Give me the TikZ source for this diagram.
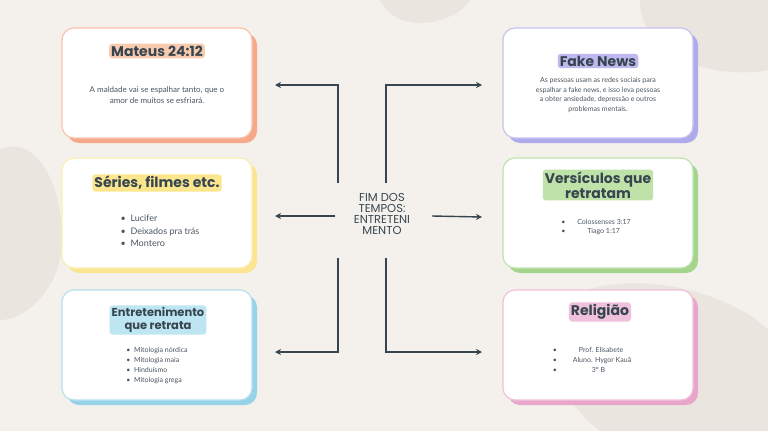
\documentclass[tikz,border=0pt]{standalone}
\usepackage{fontspec}
\setmainfont{Lato}
\newfontfamily\hfont{Poppins}
\usetikzlibrary{arrows.meta}
\definecolor{bg}{HTML}{F4F1EC}
\definecolor{blob}{HTML}{EAE5DF}
\definecolor{ink}{HTML}{36454F}
\definecolor{txt}{HTML}{4A5560}
\definecolor{cO}{HTML}{F6A98A}\definecolor{lO}{HTML}{F8CBAE}
\definecolor{cY}{HTML}{FBE592}\definecolor{lY}{HTML}{FBE68E}
\definecolor{cB}{HTML}{96D3E8}\definecolor{lB}{HTML}{BDE5F2}
\definecolor{cP}{HTML}{AEAAEB}\definecolor{lP}{HTML}{BDB8EE}
\definecolor{cG}{HTML}{A5D58D}\definecolor{lG}{HTML}{BFE2A8}
\definecolor{cK}{HTML}{E8A6CA}\definecolor{lK}{HTML}{EFC1DA}
\tikzset{x=1pt,y=-1pt,
 card/.style={fill=white,draw=#1,line width=1.2pt,rounded corners=12pt},
 shadow/.style={fill=#1,rounded corners=12pt},
 head/.style={fill=#1,rounded corners=3pt,font=\hfont\bfseries\fontsize{14}{15}\selectfont,text=ink,inner sep=2pt,align=center},
 body/.style={font=\fontsize{8}{10.5}\selectfont,text=txt,align=center},
 conn/.style={draw=ink,line width=1.4pt},
 arr/.style={conn,-{Stealth[length=6pt,width=6pt]}}}
\begin{document}
\begin{tikzpicture}
\useasboundingbox (0,0) rectangle (768,431);
\fill[bg] (0,0) rectangle (768,431);
\fill[blob] (0,150) .. controls (40,130) and (70,200) .. (60,260) .. controls (50,300) and (20,320) .. (0,320) -- cycle;
\fill[blob] (640,0) .. controls (640,60) and (720,80) .. (768,70) -- (768,0) -- cycle;
\fill[blob] (560,300) .. controls (640,260) and (740,300) .. (768,330) -- (768,431) -- (600,431) .. controls (560,400) and (530,340) .. (560,300) -- cycle;
\fill[blob] (380,0) .. controls (400,40) and (460,20) .. (470,0) -- cycle;
% cards
\foreach \x/\y/\c in {62/28/cO,62/158/cY,62/290/cB,503/28/cP,503/158/cG,503/290/cK}{
 \fill[shadow=\c] (\x+5,\y+5) rectangle (\x+195,\y+115);
 \draw[card=\c!70] (\x,\y) rectangle (\x+190,\y+110);}
\node[head=lO] (h1) at (157,51) {Mateus 24:12};
\node[body] (b1) at (157,95) {A maldade vai se espalhar tanto, que o\\amor de muitos se esfriará.};
\node[head=lY] (h2) at (157,183) {Séries, filmes etc.};
\node[body,align=left,font=\fontsize{9}{12.5}\selectfont] (b2) at (160,231) {\textbullet\ \ Lucifer\\\textbullet\ \ Deixados pra trás\\\textbullet\ \ Montero};
\node[head=lB,font=\hfont\bfseries\fontsize{11.5}{13}\selectfont] (h3) at (158,320) {Entretenimento\\que retrata};
\node[body,align=left,font=\fontsize{7}{10}\selectfont] (b3) at (157,366) {\textbullet\ \ Mitologia nórdica\\\textbullet\ \ Mitologia maia\\\textbullet\ \ Hinduísmo\\\textbullet\ \ Mitologia grega};
\node[head=lP] (h4) at (598,61) {Fake News};
\node[body,font=\fontsize{7}{9.5}\selectfont] (b4) at (598,95) {As pessoas usam as redes sociais para\\espalhar a fake news, e isso leva pessoas\\a obter ansiedade, depressão e outros\\problemas mentais.};
\node[head=lG] (h5) at (598,185) {Versículos que\\retratam};
\node[body,font=\fontsize{7}{9.5}\selectfont,align=left] (b5) at (596,227) {\textbullet\hspace{12pt}Colossenses 3:17\\\textbullet\hspace{22pt}Tiago 1:17};
\node[head=lK] (h6) at (600,312) {Religião};
\node[body,font=\fontsize{7}{10}\selectfont,align=left] (b6) at (592,360) {\textbullet\hspace{22pt}Prof. Elisabete\\\textbullet\hspace{16pt}Aluno. Hygor Kauã\\\textbullet\hspace{35pt}3º B};
\node[font=\hfont\fontsize{11.5}{11}\selectfont,text=ink,align=center] (c) at (382,214) {FIM DOS\\TEMPOS:\\ENTRETENI\\MENTO};
% connectors
\coordinate (t1) at (275,85); \coordinate (t2) at (482,85);
\coordinate (m1) at (275,216); \coordinate (m2) at (482,217);
\coordinate (u1) at (275,352); \coordinate (u2) at (482,352);
\draw[arr] (338,183) -- (338,85) -- (t1);
\draw[arr] (386,183) -- (386,85) -- (t2);
\draw[arr] (335,216) -- (m1);
\draw[arr] (432,216) -- (m2);
\draw[arr] (338,258) -- (338,352) -- (u1);
\draw[arr] (386,258) -- (386,352) -- (u2);
\end{tikzpicture}
\end{document}
